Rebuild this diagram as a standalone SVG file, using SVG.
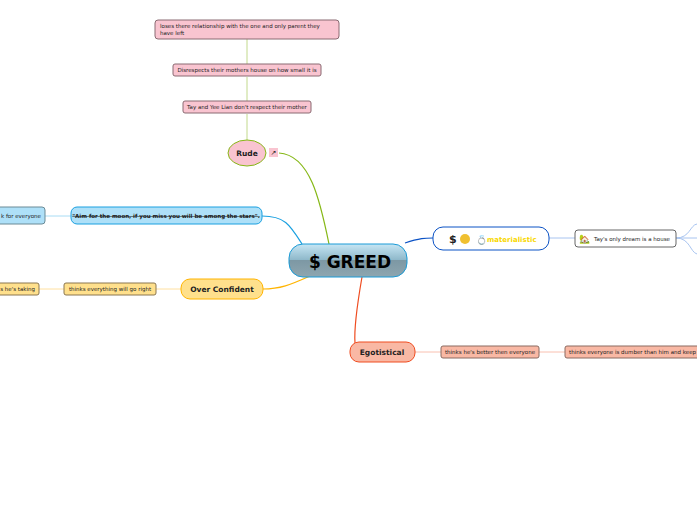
<svg xmlns="http://www.w3.org/2000/svg" width="697" height="520" viewBox="0 0 697 520">
<defs>
<style>
text{font-family:"DejaVu Sans","Liberation Sans",sans-serif;fill:#222}
.s{font-size:5.5px}
.b{font-weight:bold}
.c{fill:none;stroke-width:1.2}
</style>
<linearGradient id="g" x1="0" y1="0" x2="0" y2="1"><stop offset="0" stop-color="#c6e6f4"/><stop offset="0.5" stop-color="#8cb6c8"/><stop offset="0.5" stop-color="#7d98a4"/><stop offset="1" stop-color="#8ea6b0"/></linearGradient>
</defs>
<rect width="697" height="520" fill="#fff"/>
<g id="connectors">
<path class="c" stroke="#86b817" d="M329 244 C320 200 310 155 279 153"/>
<path class="c" stroke="#1aa0e0" d="M302 244 C290 225 285 216 262 216"/>
<path class="c" stroke="#ffb400" d="M310 276 C290 285 280 289 263 289"/>
<path class="c" stroke="#0b52c5" d="M405 243 C420 238 425 238 433 238"/>
<path class="c" stroke="#ef4c20" d="M362 277 C358 300 354 330 355 343"/>
<path stroke="#c2d98c" fill="none" d="M247 140 V114 M247 101 V77 M247 64 V39"/>
<path stroke="#a8dcf4" fill="none" d="M45 216 H71"/>
<path stroke="#ffe0a0" fill="none" d="M39 289 H64 M156 289 H181"/>
<path stroke="#a8c4f0" fill="none" d="M549 238 H575"/>
<path stroke="#a8c4f0" fill="none" d="M676 238 C690 238 690 225 697 224 M676 238 H697 M676 238 C690 238 690 252 697 254"/>
<path stroke="#f9c0b0" fill="none" d="M415 352 H441 M539 352 H565"/>
</g>
<g id="greed"><rect x="289" y="244" width="118" height="33" rx="14" fill="url(#g)" stroke="#1a9ad6"/><text x="350" y="268" text-anchor="middle" font-size="17" class="b" style="fill:#000">$ GREED</text></g>
<g id="rude"><ellipse cx="247" cy="153" rx="19" ry="13" fill="#f9c4d0" stroke="#86b817"/><text x="247" y="156" text-anchor="middle" font-size="7.5" class="b">Rude</text><rect x="269" y="148" width="9" height="9" fill="#f9c4d0"/><text x="273.5" y="155" text-anchor="middle" font-size="7">↗</text></g>
<g id="r1"><rect x="155" y="20" width="184" height="19" rx="3" fill="#f9c4d0" stroke="#8a6a72"/><text x="160" y="28" class="s">loses there relationship with the one and only parent they</text><text x="160" y="35" class="s">have left</text></g>
<g id="r2"><rect x="173" y="64" width="148" height="12" rx="2" fill="#f9c4d0" stroke="#8a6a72"/><text x="247" y="72" text-anchor="middle" class="s">Disrespects their mothers house on how small it is</text></g>
<g id="r3"><rect x="183" y="101" width="128" height="12" rx="2" fill="#f9c4d0" stroke="#8a6a72"/><text x="247" y="109" text-anchor="middle" class="s">Tay and Yee Lian don't respect their mother</text></g>
<g id="aim"><rect x="71" y="207" width="191" height="17" rx="6" fill="#aee0f8" stroke="#1aa0e0"/><text x="166" y="218" text-anchor="middle" class="s b" text-decoration="line-through">"Aim for the moon, if you miss you will be among the stars".</text></g>
<g id="aim1"><rect x="-10" y="207" width="55" height="17" rx="3" fill="#aee0f8" stroke="#6a8a96"/><text x="41" y="218" text-anchor="end" class="s">k for everyone</text></g>
<g id="oc"><rect x="181" y="279" width="82" height="20" rx="9" fill="#ffe08c" stroke="#ffb400"/><text x="222" y="292" text-anchor="middle" font-size="7.5" class="b">Over Confident</text></g>
<g id="oc1"><rect x="64" y="283" width="92" height="12" rx="2" fill="#ffe08c" stroke="#8a7650"/><text x="110" y="291" text-anchor="middle" class="s">thinks everything will go right</text></g>
<g id="oc2"><rect x="-10" y="283" width="49" height="12" rx="2" fill="#ffe08c" stroke="#8a7650"/><text x="35" y="291" text-anchor="end" class="s">s he's taking</text></g>
<g id="mat"><rect x="433" y="227" width="116" height="23" rx="10" fill="#fff" stroke="#0b52c5"/><text x="449" y="243" font-size="11" class="b">$</text><circle cx="465" cy="239" r="5" fill="#f0c030"/><text x="476" y="243" font-size="9" style="fill:#88aacc">💍</text><text x="487" y="242" font-size="7" class="b" style="fill:#f8d800">materialistic</text></g>
<g id="house"><rect x="575" y="230" width="101" height="17" rx="3" fill="#fff" stroke="#666"/><text x="579" y="242" font-size="9">🏡</text><text x="594" y="241" class="s">Tay's only dream is a house</text></g>
<g id="ego"><rect x="350" y="342" width="65" height="20" rx="9" fill="#f9b8a4" stroke="#ef4c20"/><text x="382" y="355" text-anchor="middle" font-size="7.5" class="b">Egotistical</text></g>
<g id="e1"><rect x="441" y="346" width="98" height="12" rx="2" fill="#f9b8a4" stroke="#8a6a60"/><text x="490" y="354" text-anchor="middle" class="s">thinks he's better then everyone</text></g>
<g id="e2"><rect x="565" y="346" width="140" height="12" rx="2" fill="#f9b8a4" stroke="#8a6a60"/><text x="569" y="354" class="s">thinks everyone is dumber than him and keep</text></g>
</svg>
